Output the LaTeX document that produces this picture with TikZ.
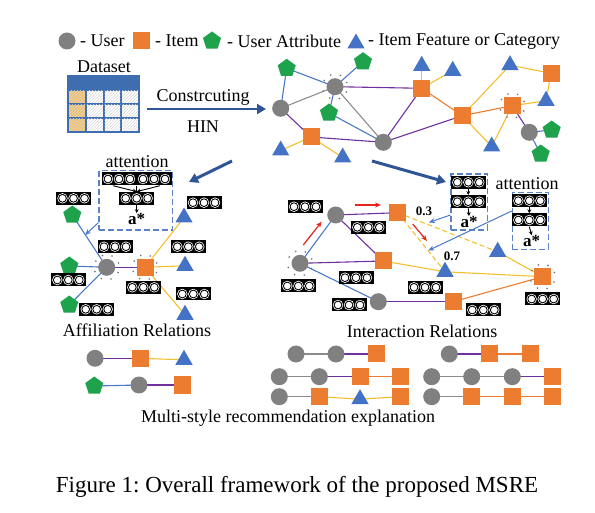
\documentclass[tikz,border=0pt]{standalone}
\usepackage{fontspec}
\setmainfont{Liberation Serif}
\frenchspacing
\usetikzlibrary{shapes.geometric,arrows.meta,backgrounds,patterns}
\definecolor{ugray}{HTML}{808080}
\definecolor{iorange}{HTML}{EC7C30}
\definecolor{agreen}{HTML}{1FA24C}
\definecolor{fblue}{HTML}{4472C4}
\definecolor{eblue}{HTML}{4A78C8}
\definecolor{epurple}{HTML}{7030A0}
\definecolor{egray}{HTML}{8C8C8C}
\definecolor{eyellow}{HTML}{F5BE2E}
\definecolor{eorange}{HTML}{EC7C30}
\definecolor{darkarrow}{HTML}{2F5597}
\definecolor{dashblue}{HTML}{5B82C8}
\definecolor{tblue}{HTML}{3E6DB0}
\definecolor{tcell}{HTML}{F2BE66}
\definecolor{redarrow}{HTML}{E8231E}
\definecolor{dotgray}{HTML}{707070}
\newcommand{\myDots}[1]{\foreach \a in {20,65,110,150,200,245,290,335}{\fill[dotgray] (#1) ++(\a:12.5pt) circle (0.9pt);}}
\begin{document}
\begin{tikzpicture}[x=1pt,y=-1pt,
  user/.style={circle,fill=ugray,minimum size=17pt,inner sep=0pt},
  item/.style={rectangle,fill=iorange,minimum size=17pt,inner sep=0pt},
  attr/.style={regular polygon,regular polygon sides=5,fill=agreen,minimum size=19pt,inner sep=0pt},
  feat/.style={regular polygon,regular polygon sides=3,fill=fblue,minimum size=20pt,inner sep=0pt,yshift=-2.5pt},
  txt/.style={font=\fontsize{18}{20}\selectfont,inner sep=0pt},
  num/.style={font=\fontsize{13}{14}\selectfont\bfseries,inner sep=0pt},
  astar/.style={font=\fontsize{17}{18}\selectfont\bfseries,inner sep=0pt},
  eb/.style={draw=eblue,line width=1.1pt},
  ep/.style={draw=epurple,line width=1.1pt},
  eg/.style={draw=egray,line width=1.1pt},
  ey/.style={draw=eyellow,line width=1.1pt},
  eo/.style={draw=eorange,line width=1.1pt},
  eyd/.style={draw=eyellow,line width=1.1pt,dash pattern=on 5pt off 3pt},
  vec/.style={rectangle,fill=black,minimum width=35pt,minimum height=13pt,inner sep=0pt,
    path picture={\foreach \dx in {-11,0,11}{
      \fill[white] ([xshift=\dx pt]path picture bounding box.center) circle (5.2pt);
      \draw[black,line width=0.9pt] ([xshift=\dx pt]path picture bounding box.center) circle (3.9pt);}}},
  attbox/.style={draw=dashblue,line width=1.2pt,dash pattern=on 6pt off 3pt,inner sep=0pt},
  bigarrow/.style={draw=darkarrow,line width=3pt,-{Triangle[length=9pt,width=10pt]}},
  attarr/.style={draw=eblue,line width=1pt,-{Stealth[length=6pt,width=5pt]}},
  redarr/.style={draw=redarrow,line width=1.2pt,-{Stealth[length=6pt,width=5pt]}},
  smallarr/.style={draw=black,line width=0.9pt,-{Stealth[length=4pt,width=4pt]}}
]
\useasboundingbox (0,0) rectangle (595,513);

% ---------- legend ----------
\node[user] (lu) at (67,41) {};
\node[txt,anchor=west] (lut) at (80,41) {- User};
\node[item] (li) at (141.5,41) {};
\node[txt,anchor=west] (lit) at (155,41) {- Item};
\node[attr] (la) at (212,41) {};
\node[txt,anchor=west] (lat) at (227,41) {- User Attribute};
\node[feat] (lf) at (356,41) {};
\node[txt,anchor=west] (lft) at (368,41) {- Item Feature or Category};

% ---------- dataset ----------
\node[txt] (dst) at (104,67) {Dataset};
\node[fill=tblue,minimum width=73pt,minimum height=58pt,inner sep=0pt] (tab) at (103.5,104) {};
\foreach \c/\col in {0/tcell,1/white,2/white,3/white}{
  \foreach \r in {0,1,2}{
    \pgfmathsetmacro{\xa}{69+\c*17.75}
    \pgfmathsetmacro{\ya}{91+\r*14}
    \fill[\col] (\xa,\ya) rectangle ++(15.75,12);
    \fill[pattern=north east lines,pattern color=black!15] (\xa,\ya) rectangle ++(15.75,12);
  }}
\coordinate (hinstart) at (147,109);
\coordinate (hinend) at (266,109);
\draw[bigarrow,line width=2.5pt] (hinstart) -- (hinend);
\node[txt] (cons) at (203,97) {Constrcuting};
\node[txt] (hin) at (203,127) {HIN};

% ---------- HIN graph ----------
\node[attr] (hp1) at (286.7,68.3) {};
\node[attr] (hp2) at (363,61.7) {};
\node[user] (hu1) at (335,86.7) {};
\node[user] (hu2) at (280.7,108.3) {};
\node[attr] (hp3) at (329,113) {};
\node[item] (hi1) at (311,137) {};
\node[feat] (ht1) at (280.7,148) {};
\node[feat] (ht2) at (342.7,155) {};
\node[user] (hu3) at (383.3,142.3) {};
\node[item] (hi2) at (421.7,88.3) {};
\node[feat] (ht3) at (421.7,63.3) {};
\node[feat] (ht4) at (452.7,68.3) {};
\node[item] (hi3) at (462.3,115.7) {};
\node[feat] (ht5) at (491.7,144) {};
\node[feat] (ht6) at (510,62.7) {};
\node[item] (hi4) at (551,73.3) {};
\node[item] (hi5) at (512.3,105.7) {};
\node[feat] (ht7) at (546,98.3) {};
\node[user] (hu4) at (529.3,132.3) {};
\node[attr] (hp4) at (551.7,130) {};
\node[attr] (hp5) at (540.7,154) {};
\myDots{hu1}
\myDots{hi5}
\begin{scope}[on background layer]
\draw[eb] (hp1.center) -- (hu2.center);
\draw[eb] (hp1.center) -- (hu1.center);
\draw[eb] (hp2.center) -- (hu1.center);
\draw[eg] (hu2.center) -- (hu1.center);
\draw[eb] (hu1.center) -- (hp3.center);
\draw[ep] (hu1.center) -- (hi2.center);
\draw[eg] (hu1.center) -- (hu3.center);
\draw[eb] (hp3.center) -- (hu3.center);
\draw[ep] (hu2.center) -- (hi1.center);
\draw[ey] (hi1.center) -- (ht1.center);
\draw[ey] (hi1.center) -- (ht2.center);
\draw[ep] (hi1.center) -- (hu3.center);
\draw[ep] (hu3.center) -- (hi2.center);
\draw[ep] (hu3.center) -- (hi3.center);
\draw[ey] (hi2.center) -- (ht3.center);
\draw[ey] (hi2.center) -- (ht4.center);
\draw[eo] (hi2.center) -- (hi3.center);
\draw[ey] (hi3.center) -- (ht6.center);
\draw[ey] (hi3.center) -- (ht5.center);
\draw[eo] (hi3.center) -- (hi5.center);
\draw[ey] (ht6.center) -- (hi4.center);
\draw[ey] (hi4.center) -- (ht7.center);
\draw[ey] (hi5.center) -- (ht7.center);
\draw[ey] (hi5.center) -- (ht5.center);
\draw[ep] (hi5.center) -- (hu4.center);
\draw[eb] (hu4.center) -- (hp4.center);
\draw[eb] (hu4.center) -- (hp5.center);
\end{scope}

% ---------- split arrows ----------
\coordinate (sl1) at (232,161);
\coordinate (sl2) at (189,182);
\coordinate (sr1) at (372,161);
\coordinate (sr2) at (446,182);
\draw[bigarrow] (sl1) -- (sl2);
\draw[bigarrow] (sr1) -- (sr2);

% ---------- left panel: affiliation ----------
\node[txt] (attl) at (137,162) {attention};
\node[attbox,minimum width=73.7pt,minimum height=59.3pt] (lbox) at (135.9,200.4) {};
\node[vec] (lv1) at (119,179) {};
\node[vec] (lv2) at (154,179) {};
\node[vec] (lv3) at (136.7,198.3) {};
\node[astar] (las) at (136.7,219) {a*};
\draw[smallarr] ([xshift=-6pt]lv1.south) -- (lv3.north);
\draw[smallarr] ([xshift=6pt]lv2.south) -- (lv3.north);
\draw[draw=black,line width=0.9pt] (lv1.south east) -- (lv3.north);
\draw[smallarr] (lv3.south) -- (las.north);

\node[user] (lu1) at (106.7,267.3) {};
\node[item] (li1) at (145,267.3) {};
\node[attr] (lp1) at (72.3,215) {};
\node[attr] (lp2) at (69.3,266) {};
\node[attr] (lp3) at (69.3,305) {};
\node[feat] (lt1) at (184,215) {};
\node[feat] (lt2) at (185,263.3) {};
\node[feat] (lt3) at (185,312.3) {};
\myDots{lu1}
\myDots{li1}
\begin{scope}[on background layer]
\draw[eb] (lp1.center) -- (lu1.center);
\draw[eb] (lp2.center) -- (lu1.center);
\draw[eb] (lp3.center) -- (lu1.center);
\draw[ep] (lu1.center) -- (li1.center);
\draw[ey] (li1.center) -- (lt1.center);
\draw[ey] (li1.center) -- (lt2.center);
\draw[ey] (li1.center) -- (lt3.center);
\end{scope}
\coordinate (lattend) at (85,235);
\draw[attarr] ([yshift=8pt]lbox.south west) -- (lattend);
\node[vec] (lvp1) at (73.5,198.3) {};
\node[vec] (lvu) at (115,246.7) {};
\node[vec] (lvp2) at (68.3,280) {};
\node[vec] (lvp3) at (96.7,309.3) {};
\node[vec] (lvi) at (143.3,287.3) {};
\node[vec] (lvt1) at (204,202.7) {};
\node[vec] (lvt2) at (188.3,246.7) {};
\node[vec] (lvt3) at (193.3,294) {};
\node[txt] (affl) at (137,330) {Affiliation Relations};

% ---------- right panel: interaction ----------
\node[user] (ru1) at (335.7,215) {};
\node[item] (ri1) at (397.7,212.7) {};
\node[user] (ru2) at (300,263.3) {};
\node[item] (ri2) at (383.3,261) {};
\node[feat] (rt1) at (445,269.3) {};
\node[feat] (rt2) at (497.7,249.3) {};
\node[item] (ri3) at (542.7,276.7) {};
\node[user] (ru3) at (378.3,301.7) {};
\node[item] (ri4) at (453.3,301.7) {};
\myDots{ru2}
\myDots{ri3}
\begin{scope}[on background layer]
\draw[ep] (ru1.center) -- (ri1.center);
\draw[eb] (ru1.center) -- (ru2.center);
\draw[ep] (ru1.center) -- (ri2.center);
\draw[ep] (ru2.center) -- (ri2.center);
\draw[eb] (ru2.center) -- (ru3.center);
\draw[ep] (ru3.center) -- (ri4.center);
\draw[eo] (ri4.center) -- (ri3.center);
\draw[ey] (ri2.center) -- (rt1.center);
\draw[ey] (rt1.center) -- (ri3.center);
\draw[eyd] (ri1.center) -- (rt2.center);
\draw[ey] (rt2.center) -- (ri3.center);
\draw[eyd] (ri1.center) -- (rt1.center);
\end{scope}
\node[num] (n03) at (424,211) {0.3};
\node[num] (n07) at (452,256) {0.7};

\coordinate (ra1s) at (303.3,245);
\coordinate (ra1e) at (321.7,221.7);
\coordinate (ra2s) at (355,205);
\coordinate (ra2e) at (381,205);
\coordinate (ra3s) at (412.7,224);
\coordinate (ra3e) at (427,241);
\draw[redarr] (ra1s) -- (ra1e);
\draw[redarr] (ra2s) -- (ra2e);
\draw[redarr] (ra3s) -- (ra3e);

\node[attbox,minimum width=36.3pt,minimum height=56pt] (rbox1) at (469.2,202) {};
\node[vec] (rv11) at (468.3,182.3) {};
\node[vec] (rv12) at (468.3,201.7) {};
\node[astar] (ras1) at (469,222) {a*};
\draw[smallarr] (rv11.south) -- (rv12.north);
\draw[smallarr] (rv12.south) -- (ras1.north);

\node[txt] (attr2) at (527,184) {attention};
\node[attbox,minimum width=36pt,minimum height=56.6pt] (rbox2) at (530.3,221) {};
\node[vec] (rv21) at (529.3,200.7) {};
\node[vec] (rv22) at (529.3,220) {};
\node[astar] (ras2) at (531.7,241) {a*};
\draw[smallarr] (rv21.south) -- (rv22.north);
\draw[smallarr] (rv22.south) -- (ras2.north);

\coordinate (rat1) at (429,222.5);
\coordinate (rat2) at (428.3,250.5);
\draw[attarr] ([yshift=-13pt]rbox1.west) -- (rat1);
\draw[attarr] ([yshift=10pt]rbox2.west) -- (rat2);

\node[vec] (rvu1) at (305,206.7) {};
\node[vec] (rvi1) at (368.3,227.3) {};
\node[vec] (rvu2) at (298.3,286) {};
\node[vec] (rvi2) at (356,277.7) {};
\node[vec] (rvt1) at (425,287.3) {};
\node[vec] (rvu3) at (349,305) {};
\node[vec] (rvi4) at (483.3,310) {};
\node[vec] (rvi3) at (542.7,299) {};
\node[txt] (intr) at (422,331.5) {Interaction Relations};

% ---------- explanations ----------
\node[user] (a1) at (95,358.3) {};
\node[item] (a2) at (140,358.3) {};
\node[feat] (a3) at (184,357.3) {};
\node[attr] (b1) at (94.3,386) {};
\node[user] (b2) at (139,385) {};
\node[item] (b3) at (182.7,385) {};

\node[user] (c1) at (296,354) {};
\node[user] (c2) at (336,354) {};
\node[item] (c3) at (376.7,354) {};
\node[user] (d1) at (279.3,376.7) {};
\node[user] (d2) at (319.3,376.7) {};
\node[item] (d3) at (360,376.7) {};
\node[item] (d4) at (400,376.7) {};
\node[user] (e1) at (279.3,396.7) {};
\node[item] (e2) at (319.3,396.7) {};
\node[feat] (e3) at (360,396.7) {};
\node[item] (e4) at (400,396.7) {};

\node[user] (f1) at (449.3,354) {};
\node[item] (f2) at (489.3,354) {};
\node[item] (f3) at (530,354) {};
\node[user] (g1) at (431.7,376.7) {};
\node[user] (g2) at (471.7,376.7) {};
\node[user] (g3) at (512.3,376.7) {};
\node[item] (g4) at (552.7,376.7) {};
\node[user] (h1) at (431.7,396.7) {};
\node[item] (h2) at (471.7,396.7) {};
\node[item] (h3) at (512.3,396.7) {};
\node[item] (h4) at (552.7,396.7) {};

\begin{scope}[on background layer]
\draw[ep] (a1.center) -- (a2.center);
\draw[ey] (a2.center) -- (a3.center);
\draw[eb] (b1.center) -- (b2.center);
\draw[ep] (b2.center) -- (b3.center);
\draw[eg] (c1.center) -- (c2.center);
\draw[ep] (c2.center) -- (c3.center);
\draw[eg] (d1.center) -- (d2.center);
\draw[ep] (d2.center) -- (d3.center);
\draw[eo] (d3.center) -- (d4.center);
\draw[eg] (e1.center) -- (e2.center);
\draw[ey] (e2.center) -- (e3.center);
\draw[ey] (e3.center) -- (e4.center);
\draw[ep] (f1.center) -- (f2.center);
\draw[eo] (f2.center) -- (f3.center);
\draw[eg] (g1.center) -- (g2.center);
\draw[eg] (g2.center) -- (g3.center);
\draw[ep] (g3.center) -- (g4.center);
\draw[eg] (h1.center) -- (h2.center);
\draw[eo] (h2.center) -- (h3.center);
\draw[eo] (h3.center) -- (h4.center);
\end{scope}
\node[txt] (msre) at (288,418) {Multi-style recommendation explanation};

% ---------- caption ----------
\node[font=\fontsize{23}{26}\selectfont,inner sep=0pt] (cap) at (297,487) {Figure 1: Overall framework of the proposed MSRE};
\end{tikzpicture}
\end{document}
